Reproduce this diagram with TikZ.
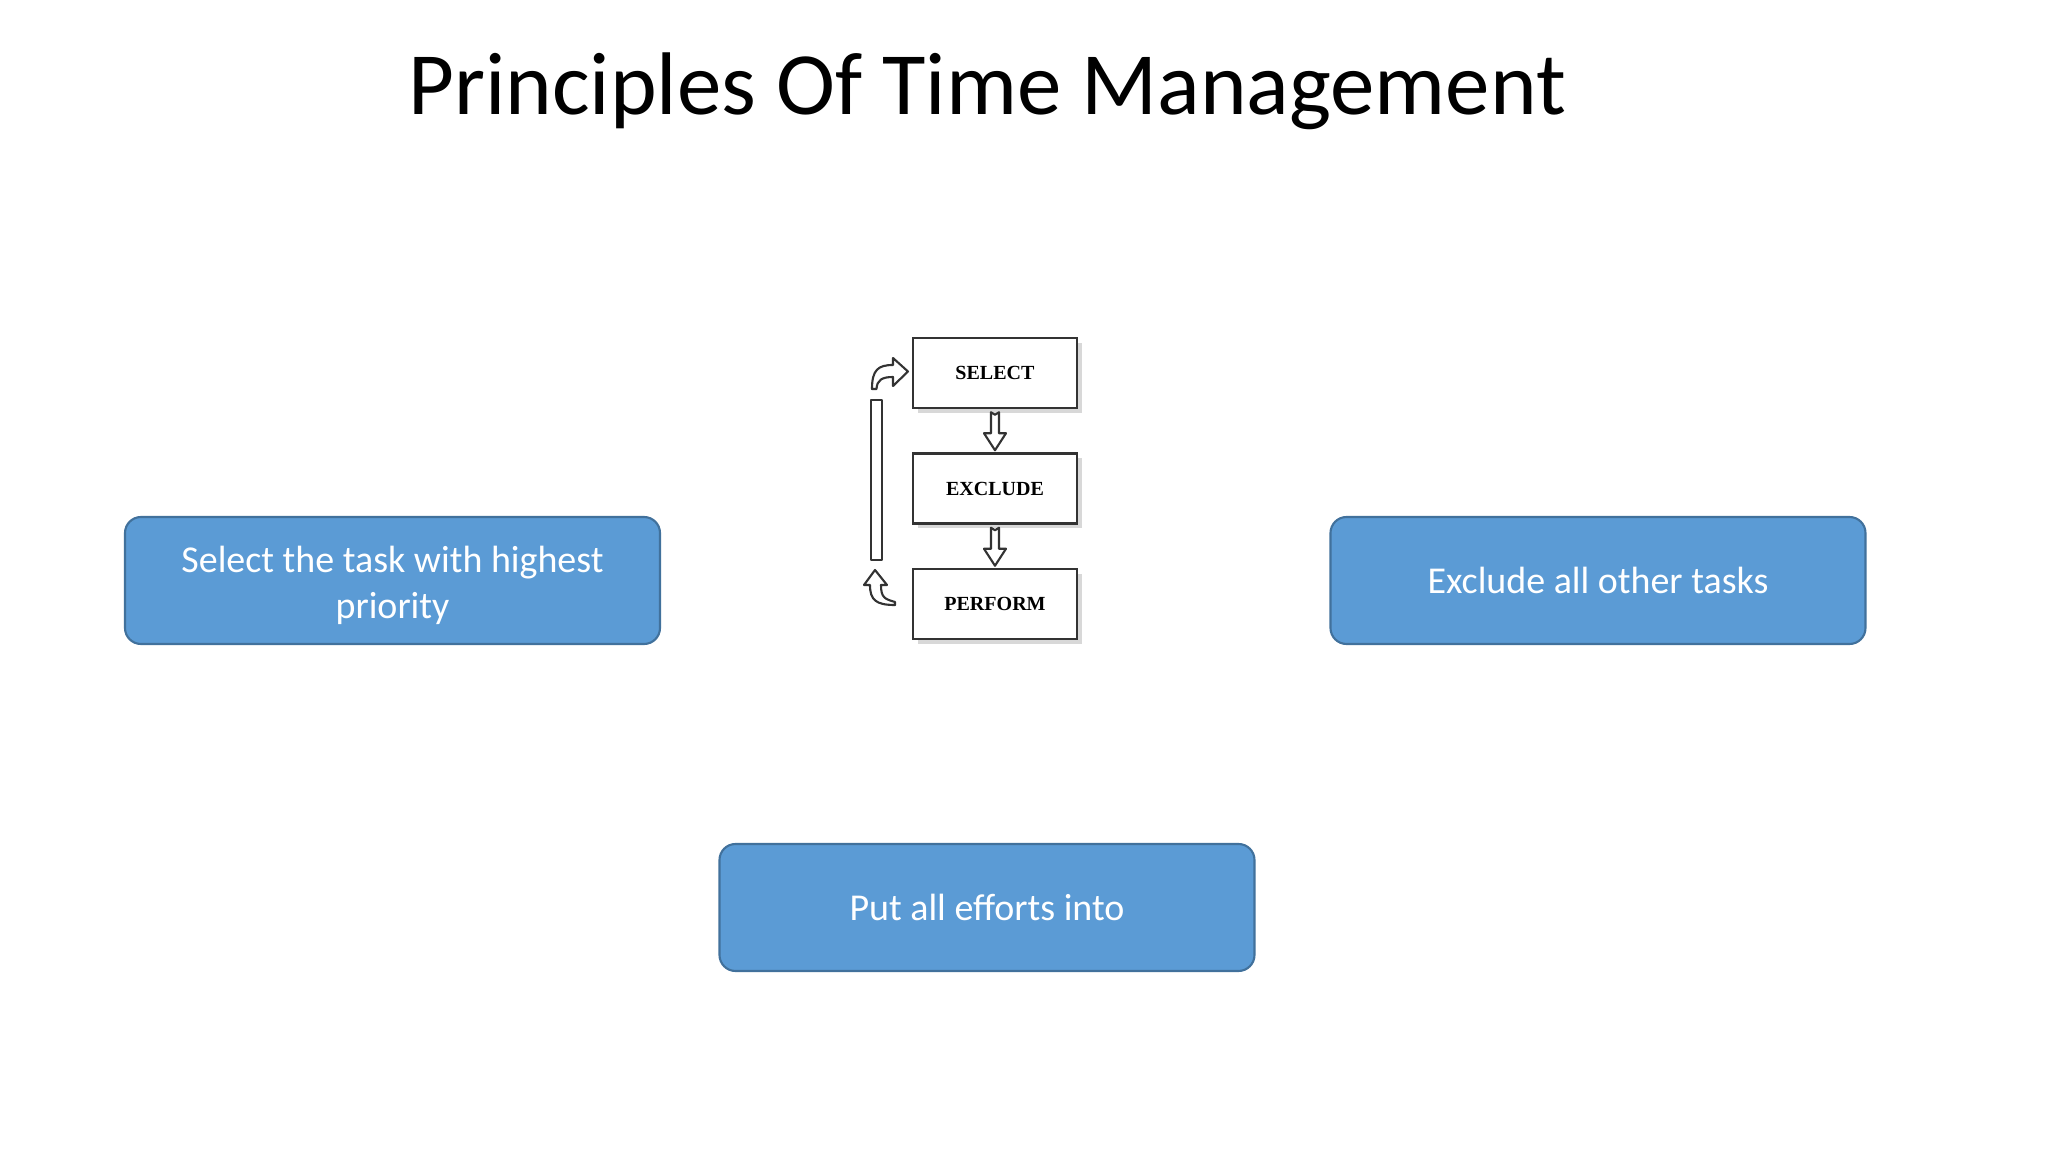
\documentclass[tikz,border=0pt]{standalone}
\usepackage{fontspec}
\setmainfont{Carlito}
\newfontfamily\boxserif{Liberation Serif}
\usepackage{xcolor}
\usepackage{tikz}
\usetikzlibrary{positioning,calc,shadows}
\definecolor{boxblue}{HTML}{5B9BD5}
\definecolor{boxedge}{HTML}{41719C}
\tikzset{task/.style={draw=boxedge,fill=boxblue,line width=0.6pt,rounded corners=0.16cm,
    minimum width=5.35cm,minimum height=1.27cm,align=center,text=white,
    font=\fontsize{10.8}{13.2}\selectfont}}
\tikzset{stepbox/.style={draw=black!80,fill=white,line width=0.7pt,minimum width=1.64cm,
    minimum height=0.70cm,inner sep=0pt,font=\boxserif\bfseries\fontsize{5.7}{6}\selectfont,
    drop shadow={shadow xshift=0.05cm,shadow yshift=-0.05cm,fill=black!25,opacity=0.6}}}
\tikzstyle{hollow}=[draw=black!80,fill=white,line width=0.6pt,line join=round]
\newcommand{\hollowdown}[1]{%
    \draw[hollow] ($(#1)+(-0.04,0.185)$) -- ($(#1)+(0,0.16)$) -- ($(#1)+(0.04,0.185)$)
        -- ($(#1)+(0.04,-0.025)$) -- ($(#1)+(0.11,-0.025)$) -- ($(#1)+(0,-0.195)$)
        -- ($(#1)+(-0.11,-0.025)$) -- ($(#1)+(-0.04,-0.025)$) -- cycle;}

\begin{document}
\begin{tikzpicture}[node distance=1.155cm]
    \useasboundingbox[fill=white] (0,0) rectangle (20.48,-11.52);
    \node (title) at (9.87,-1.15) [anchor=base,font=\fontsize{25.3}{30}\selectfont] {Principles Of Time Management};
    \node (sel) at (9.95,-3.73) [stepbox] {SELECT};
    \node (exc) [stepbox,below of=sel] {EXCLUDE};
    \node (per) [stepbox,below of=exc] {PERFORM};
    \coordinate (m1) at ($(sel.south)!0.5!(exc.north)$);
    \coordinate (m2) at ($(exc.south)!0.5!(per.north)$);
    \hollowdown{m1}
    \hollowdown{m2}
    % loop back on the left
    \draw[hollow] (8.71,-4.00) rectangle (8.82,-5.60);
    \draw[hollow] (8.72,-3.89) .. controls (8.72,-3.70) and (8.78,-3.65) .. (8.93,-3.65)
        -- (8.93,-3.58) -- (9.08,-3.715) -- (8.93,-3.86) -- (8.93,-3.77)
        .. controls (8.82,-3.77) and (8.77,-3.80) .. (8.765,-3.89) -- cycle;
    \draw[hollow] (8.75,-5.70) -- (8.87,-5.85) -- (8.81,-5.85)
        .. controls (8.81,-5.98) and (8.85,-5.99) .. (8.95,-6.02) -- (8.95,-6.05)
        .. controls (8.76,-6.05) and (8.70,-6.00) .. (8.70,-5.85) -- (8.64,-5.85) -- cycle;
    \node (left) at (3.925,-5.805) [task,text height=0.82cm] {Select the task with highest\\priority};
    \node (right) at (15.98,-5.805) [task] {Exclude all other tasks};
    \node (bottom) at (9.87,-9.075) [task] {Put all efforts into};
\end{tikzpicture}
\end{document}
